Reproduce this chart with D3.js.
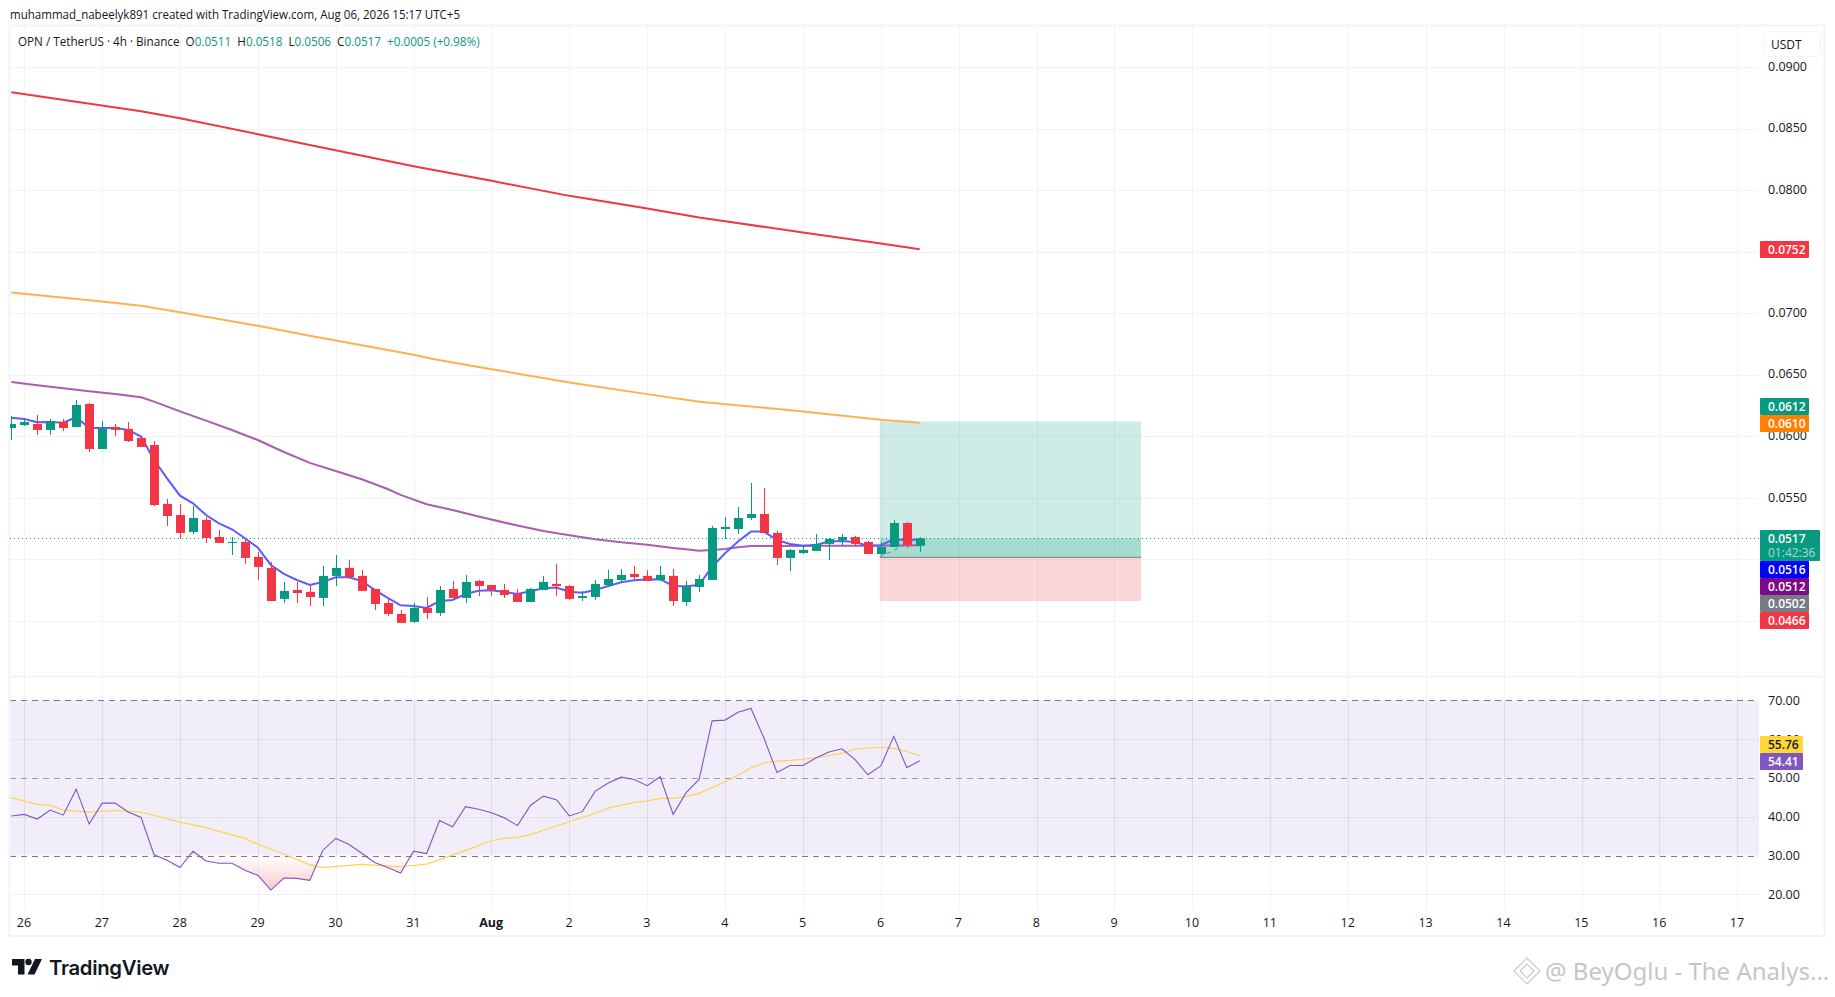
<!DOCTYPE html>
<html><head><meta charset="utf-8">
<script src="https://cdn.jsdelivr.net/npm/d3@7/dist/d3.min.js"></script>
<style>
html,body{margin:0;padding:0;background:#fff;overflow:hidden}
svg{display:block}
text{font-family:"Open Sans","Noto Sans",sans-serif}
</style></head><body>
<script>
// ---- data ----
const firstIndex=-1; // candle index: 0 = the 26th 00:00, six candles per day
const opens=[.06067,.06091,.06099,.06051,.06116,.06075,.06262,.05896,.06075,.06059,.05986,.05929,.05450,.05360,.05222,.05320,.05181,.05135,.05141,.05019,.04930,.04678,.04751,.04735,.04686,.04865,.04930,.04865,.04759,.04645,.04556,.04491,.04605,.04564,.04759,.04686,.04824,.04791,.04751,.04718,.04653,.04751,.04800,.04783,.04686,.04694,.04791,.04832,.04881,.04865,.04832,.04865,.04653,.04775,.04832,.05246,.05246,.05336,.05368,.05214,.05011,.05051,.05068,.05125,.05157,.05181,.05141,.05043,.05100,.05295,.0511];
const highs=[.06164,.06145,.06173,.06140,.06140,.06294,.06270,.06124,.06099,.06116,.05986,.05961,.05490,.05450,.05433,.05344,.05238,.05181,.05157,.05060,.04978,.04816,.04816,.04800,.04946,.05035,.04995,.04913,.04759,.04686,.04588,.04645,.04694,.04783,.04824,.04873,.04832,.04791,.04800,.04759,.04767,.04865,.04962,.04791,.04743,.04832,.04913,.04921,.04946,.04913,.04946,.04921,.04824,.04873,.05271,.05344,.05425,.05620,.05580,.05230,.05084,.05116,.05206,.05173,.05206,.05190,.05149,.05141,.05320,.05303,.0518];
const lows=[.05969,.06083,.06010,.06010,.06043,.06075,.05872,.05896,.06002,.05953,.05913,.05433,.05271,.05165,.05206,.05133,.05133,.05035,.04962,.04832,.04661,.04645,.04645,.04621,.04621,.04783,.04854,.04743,.04588,.04540,.04483,.04483,.04515,.04540,.04686,.04645,.04702,.04702,.04686,.04653,.04653,.04751,.04702,.04670,.04661,.04670,.04783,.04824,.04840,.04824,.04824,.04621,.04621,.04735,.04832,.05165,.05206,.05320,.05214,.04954,.04905,.05043,.05068,.04995,.05116,.05108,.05043,.05035,.05100,.05092,.0506];
const closes=[.06099,.06116,.06051,.06124,.06067,.06254,.05896,.06059,.06051,.05961,.05913,.05441,.05352,.05214,.05336,.05173,.05133,.05141,.05011,.04938,.04661,.04743,.04726,.04694,.04865,.04930,.04854,.04743,.04637,.04556,.04483,.04605,.04564,.04751,.04686,.04816,.04783,.04751,.04710,.04653,.04759,.04816,.04783,.04678,.04702,.04800,.04840,.04873,.04856,.04824,.04873,.04661,.04775,.04840,.05255,.05263,.05336,.05368,.05214,.05011,.05076,.05076,.05125,.05165,.05181,.05125,.05043,.05100,.05295,.05116,.0517];
const blueMA=[.06151,.06140,.06113,.06116,.06110,.06154,.06067,.06067,.06067,.06051,.05997,.05807,.05658,.05517,.05455,.05360,.05292,.05244,.05171,.05095,.04954,.04881,.04832,.04791,.04816,.04854,.04854,.04824,.04751,.04686,.04626,.04621,.04605,.04661,.04670,.04718,.04745,.04748,.04735,.04718,.04740,.04764,.04770,.04737,.04729,.04751,.04783,.04813,.04829,.04835,.04838,.04783,.04781,.04791,.04940,.05049,.05144,.05225,.05225,.05157,.05125,.05111,.05116,.05144,.05149,.05141,.05111,.05114,.05162,.05157,.0516];
const purpleIdx=[-1,1,3,5,7,9,10,12,14,16,18,20,22,24,26,28,29,31,33,35,38,40,42,44,46,48,50,51,52,53,54,55,56,58,61,65,69];
const purpleMA=[.06441,.06414,.06389,.06365,.06343,.06316,.06281,.06202,.06127,.06051,.05969,.05872,.05783,.05718,.05650,.05571,.05523,.05447,.05401,.05347,.05274,.05230,.05195,.05162,.05138,.05119,.05092,.05081,.05070,.05076,.05084,.05097,.05108,.05108,.05111,.05111,.05115];
const orangeIdx=[-1,6,9,12,18,22,30,31.5,36,42,48,52,56.6,60,66,69];
const orangeMA=[.07168,.07095,.0706,.07008,.06897,.06816,.06662,.06628,.06545,.06437,.06342,.0628,.06236,.06201,.06133,.0611];
const redIdx=[-1,9,12,18,22,30,36,42,48,52,54,60,66,69];
const redMA=[.08795,.08641,.08584,.08454,.08367,.08194,.08075,.07953,.0785,.07777,.07747,.07655,.07566,.0752];
const rsiValues=[40.2,40.6,39.4,41.7,40.4,47.1,38.1,43.5,43.5,41.2,39.8,30.2,28.8,26.9,31.1,28.6,28.0,28.0,26.2,24.9,21.1,24.2,24.1,23.6,31.3,34.4,32.9,30.6,28.2,26.9,25.5,31.1,30.5,39.0,37.4,42.6,41.9,41.0,39.7,37.7,42.9,45.3,44.4,40.2,41.3,46.6,48.7,50.2,49.6,48.0,50.3,40.6,46.2,49.6,64.7,64.9,66.9,67.9,60.2,51.4,53.2,53.2,55.1,56.7,57.5,54.8,50.8,53.1,60.7,52.6,54.41];
const rsiMaIdx=[-1,1,2,3,5,7,9,12,14,17,18,20,22,23,26,29,31,33,36,37,38,39,41,44,45,47,48,49,50,51,52,54,55,56,57,58,59,60,61,63,64,65,66,67,68,69];
const rsiMaValues=[44.9,43.2,42.9,41.7,41.2,41.6,41.2,38.6,37.2,34.4,32.9,30.4,27.6,26.9,27.7,27.1,27.8,30.1,33.8,34.4,34.7,35.4,37.6,40.9,42.2,43.7,44.1,44.7,44.7,45.2,46.0,49.0,50.7,52.6,53.9,54.3,54.5,54.8,55.2,56.3,57.4,57.7,57.9,57.6,56.8,55.76];
const dayIdx=[0,6,12,18,24,30,36,42,48,54,60,66,72,78,84,90,96,102,108,114,120,126,132];
const dayLabels=["26","27","28","29","30","31","Aug","2","3","4","5","6","7","8","9","10","11","12","13","14","15","16","17"];
const priceTicks=[.09,.085,.08,.07,.065,.06,.055];
const priceGrid=[.09,.085,.08,.075,.07,.065,.06,.055,.05,.045];
const rsiTicks=[60,70,50,40,30,20];
const rsiGrid=[60,40,20];
const rsiDashes=[70,50,30];
const lastPrice=.0517, entry=.0502, target=.0612, stop=.0466;
const priceTags=[
 {t:"0.0752",top:241,bg:"#f23645",fg:"#fff"},{t:"0.0612",top:398,bg:"#089981",fg:"#fff"},
 {t:"0.0610",top:415,bg:"#ff7f00",fg:"#fff"},{t:"0.0516",top:561,bg:"#0000ff",fg:"#fff"},
 {t:"0.0512",top:578,bg:"#7b0b87",fg:"#fff"},{t:"0.0502",top:595,bg:"#787b86",fg:"#fff"},
 {t:"0.0466",top:612,bg:"#f23645",fg:"#fff"}];
const rsiTags=[{t:"55.76",top:736,bg:"#fdd835",fg:"#131722"},{t:"54.41",top:753,bg:"#7e57c2",fg:"#fff"}];

// ---- layout ----
const W=1835,H=997,L=10,R=1759,T=26,PB=676,TB=909;
const up="#089981",dn="#f23645",grid="#f2f3f5";
const svg=d3.select("body").append("svg").attr("width",W).attr("height",H);
const x=d3.scaleLinear().domain([0,132]).range([24.3,1737.3]);
const y=d3.scaleLinear().domain([.05,.09]).range([559.3,67]);
const yr=d3.scaleLinear().domain([20,70]).range([894.3,700.3]);
const defs=svg.append("defs");
defs.append("clipPath").attr("id","cm").append("rect").attr("x",L).attr("y",T).attr("width",R-L).attr("height",PB-T);
defs.append("clipPath").attr("id","cr").append("rect").attr("x",L).attr("y",PB).attr("width",R-L).attr("height",TB-PB);
defs.append("clipPath").attr("id","cos").append("rect").attr("x",L).attr("y",yr(30)).attr("width",R-L).attr("height",yr(15)-yr(30));
const gr=defs.append("linearGradient").attr("id","os").attr("gradientUnits","userSpaceOnUse").attr("x1",0).attr("x2",0).attr("y1",yr(30)).attr("y2",yr(20));
gr.append("stop").attr("offset",0).attr("stop-color",dn).attr("stop-opacity",0);
gr.append("stop").attr("offset",1).attr("stop-color",dn).attr("stop-opacity",.3);

// header text
svg.append("text").attr("x",10).attr("y",19).attr("font-size",12.5).attr("fill","#131722").attr("textLength",450).attr("lengthAdjust","spacingAndGlyphs").text("muhammad_nabeelyk891 created with TradingView.com, Aug 06, 2026 15:17 UTC+5");

// grid
const gg=svg.append("g");
gg.selectAll(".h").data(priceGrid).join("line").attr("x1",L).attr("x2",R).attr("y1",d=>Math.round(y(d))+.5).attr("y2",d=>Math.round(y(d))+.5).attr("stroke",grid);
gg.selectAll(".v").data(dayIdx).join("line").attr("x1",d=>Math.round(x(d))+.5).attr("x2",d=>Math.round(x(d))+.5).attr("y1",T).attr("y2",TB).attr("stroke",grid);

// rsi band
svg.append("rect").attr("x",L).attr("width",R-L).attr("y",yr(70)).attr("height",yr(30)-yr(70)).attr("fill","#7e57c2").attr("fill-opacity",.1);
svg.append("g").selectAll("line").data(rsiGrid).join("line").attr("x1",L).attr("x2",R).attr("y1",d=>Math.round(yr(d))+.5).attr("y2",d=>Math.round(yr(d))+.5).attr("stroke","#131722").attr("stroke-opacity",.06);
svg.append("g").selectAll("line").data(dayIdx).join("line").attr("x1",d=>Math.round(x(d))+.5).attr("x2",d=>Math.round(x(d))+.5).attr("y1",yr(70)).attr("y2",yr(30)).attr("stroke","#131722").attr("stroke-opacity",.04);
svg.append("g").selectAll("line").data(rsiDashes).join("line").attr("x1",L).attr("x2",R).attr("y1",d=>Math.round(yr(d))+.5).attr("y2",d=>Math.round(yr(d))+.5)
 .attr("stroke","#787b86").attr("stroke-dasharray","6 5").attr("stroke-opacity",d=>d===50?.7:1);

// frame
const frame=svg.append("g").attr("fill","none").attr("stroke","#f0f3fa");
frame.append("rect").attr("x",9.5).attr("y",25.5).attr("width",1815).attr("height",910.5).attr("stroke-width",2);
frame.append("line").attr("x1",10).attr("x2",1825).attr("y1",676.5).attr("y2",676.5).attr("stroke-width",2);

// main pane
const m=svg.append("g").attr("clip-path","url(#cm)");
const boxL=x(66)-1,boxR=1141;
m.append("rect").attr("x",boxL).attr("width",boxR-boxL).attr("y",y(target)).attr("height",y(entry)-y(target)).attr("fill",up).attr("fill-opacity",.2);
m.append("rect").attr("x",boxL).attr("width",boxR-boxL).attr("y",y(entry)).attr("height",y(stop)-y(entry)).attr("fill",dn).attr("fill-opacity",.2);
m.append("rect").attr("x",boxL).attr("width",boxR-boxL).attr("y",y(lastPrice)).attr("height",y(entry)-y(lastPrice)).attr("fill",up).attr("fill-opacity",.2);
m.append("line").attr("x1",boxL).attr("x2",boxR).attr("y1",y(entry)+.5).attr("y2",y(entry)+.5).attr("stroke","#787b86");
m.append("line").attr("x1",boxL).attr("x2",x(69)).attr("y1",y(entry)).attr("y2",y(lastPrice)).attr("stroke","#787b86").attr("stroke-dasharray","4 4");

const ln=(xs,ys,sx=x,sy=y)=>d3.line()(xs.map((v,i)=>[sx(v),sy(ys[i])]));
const allIdx=opens.map((_,i)=>firstIndex+i);
m.append("path").attr("d",ln(redIdx,redMA)).attr("fill","none").attr("stroke",dn).attr("stroke-width",2);
m.append("path").attr("d",ln(orangeIdx,orangeMA)).attr("fill","none").attr("stroke","#ffb052").attr("stroke-width",2);
m.append("path").attr("d",ln(purpleIdx,purpleMA)).attr("fill","none").attr("stroke","#ab5cb3").attr("stroke-width",2);
m.append("path").attr("d",ln(allIdx,blueMA)).attr("fill","none").attr("stroke","#5c5cff").attr("stroke-width",2);

// price line
m.append("line").attr("x1",L).attr("x2",R).attr("y1",Math.round(y(lastPrice))+.5).attr("y2",Math.round(y(lastPrice))+.5).attr("stroke",up).attr("stroke-dasharray","1 3");

// candles
const c=m.append("g").selectAll("g").data(allIdx).join("g").attr("fill",(d,i)=>closes[i]>=opens[i]?up:dn);
c.append("rect").attr("x",d=>Math.round(x(d))).attr("width",1).attr("y",(d,i)=>y(highs[i])).attr("height",(d,i)=>y(lows[i])-y(highs[i]));
c.append("rect").attr("x",d=>Math.round(x(d))-4).attr("width",9)
 .attr("y",(d,i)=>y(Math.max(opens[i],closes[i])))
 .attr("height",(d,i)=>Math.max(1,Math.abs(y(opens[i])-y(closes[i]))));

// rsi pane
const r=svg.append("g").attr("clip-path","url(#cr)");
r.append("path").attr("clip-path","url(#cos)").attr("fill","url(#os)")
 .attr("d",d3.area().x(d=>x(d)).y0(yr(30)).y1((d,i)=>yr(rsiValues[i]))(allIdx));
r.append("path").attr("d",ln(rsiMaIdx,rsiMaValues,x,yr)).attr("fill","none").attr("stroke","#fdd24f").attr("stroke-width",1.2);
r.append("path").attr("d",ln(allIdx,rsiValues,x,yr)).attr("fill","none").attr("stroke","#7e57c2").attr("stroke-width",1.1);

// axes
const pa=svg.append("g").attr("transform",`translate(1760,-0.7)`).call(d3.axisRight(y).tickValues(priceTicks).tickFormat(d3.format(".4f")).tickSize(0).tickPadding(8));
const ra=svg.append("g").attr("transform",`translate(1760,0)`).call(d3.axisRight(yr).tickValues(rsiTicks).tickFormat(d3.format(".2f")).tickSize(0).tickPadding(8));
const ta=svg.append("g").attr("transform",`translate(-0.8,915.5)`).call(d3.axisBottom(x).tickValues(dayIdx).tickFormat((d,i)=>dayLabels[i]).tickSize(0).tickPadding(0));
[pa,ra,ta].forEach(a=>{a.select(".domain").remove();a.selectAll("text").attr("font-size",12.5).attr("fill","#131722").style("font-family","'Open Sans',sans-serif");});
ta.selectAll("text").attr("dy","0.9em").attr("font-weight",(d,i)=>dayLabels[i]==="Aug"?700:400);

// tags
const tag=(g,d,w)=>{g.append("rect").attr("x",1760).attr("y",d.top).attr("width",w).attr("height",17).attr("fill",d.bg).attr("rx",1);
 g.append("text").attr("x",1768).attr("y",d.top+13).attr("font-size",12).attr("font-weight",600).attr("fill",d.fg).text(d.t);};
const tg=svg.append("g");
priceTags.forEach(d=>tag(tg,d,49));
rsiTags.forEach(d=>tag(tg,d,43));
tg.append("rect").attr("x",1760).attr("y",530).attr("width",60).attr("height",31).attr("fill",up).attr("rx",1);
tg.append("text").attr("x",1768).attr("y",543).attr("font-size",12).attr("font-weight",600).attr("fill","#fff").text("0.0517");
tg.append("text").attr("x",1768).attr("y",557).attr("font-size",12).attr("fill","#fff").attr("fill-opacity",.65).text("01:42:36");

// USDT button
svg.append("rect").attr("x",1763.5).attr("y",31.5).attr("width",57).attr("height",25).attr("rx",4).attr("fill","#fff").attr("stroke","#f0f3fa");
svg.append("text").attr("x",1771).attr("y",49).attr("font-size",12).attr("fill","#131722").text("USDT");

// legend
const lg=svg.append("text").attr("x",18).attr("y",46).attr("font-size",11.7);
[["OPN / TetherUS · 4h · Binance  ","#131722"],["O","#131722"],["0.0511  ",up],["H","#131722"],["0.0518  ",up],["L","#131722"],["0.0506  ",up],["C","#131722"],["0.0517  +0.0005 (+0.98%)",up]]
 .forEach(([t,f])=>lg.append("tspan").attr("fill",f).style("white-space","pre").text(t));

// logo
const lo=svg.append("g").attr("fill","#131722");
lo.append("path").attr("d","M12 959H24.5V974.5H18V965.5H12Z");
lo.append("circle").attr("cx",28.5).attr("cy",962).attr("r",3.2);
lo.append("path").attr("d","M35 959H42L34.5 974.5H27.5Z");
lo.append("text").attr("x",49).attr("y",974.5).attr("font-size",20.3).attr("font-weight",600).style("font-family","Inter,sans-serif").attr("letter-spacing","-0.3").text("TradingView");

// watermark
const wm=svg.append("g").attr("fill","none").attr("stroke","#c9c9c9").attr("stroke-width",1.2);
[[1527,971,13],[1527,971,7]].forEach(([a,b,s])=>wm.append("path").attr("d",`M${a-s} ${b}L${a} ${b-s}L${a+s} ${b}L${a} ${b+s}Z`));
svg.append("text").attr("x",1545).attr("y",980).attr("font-size",24).attr("fill","#c6c6c6").style("font-family","'Noto Sans',sans-serif").text("@ BeyOglu - The Analys...");
</script>
</body></html>
